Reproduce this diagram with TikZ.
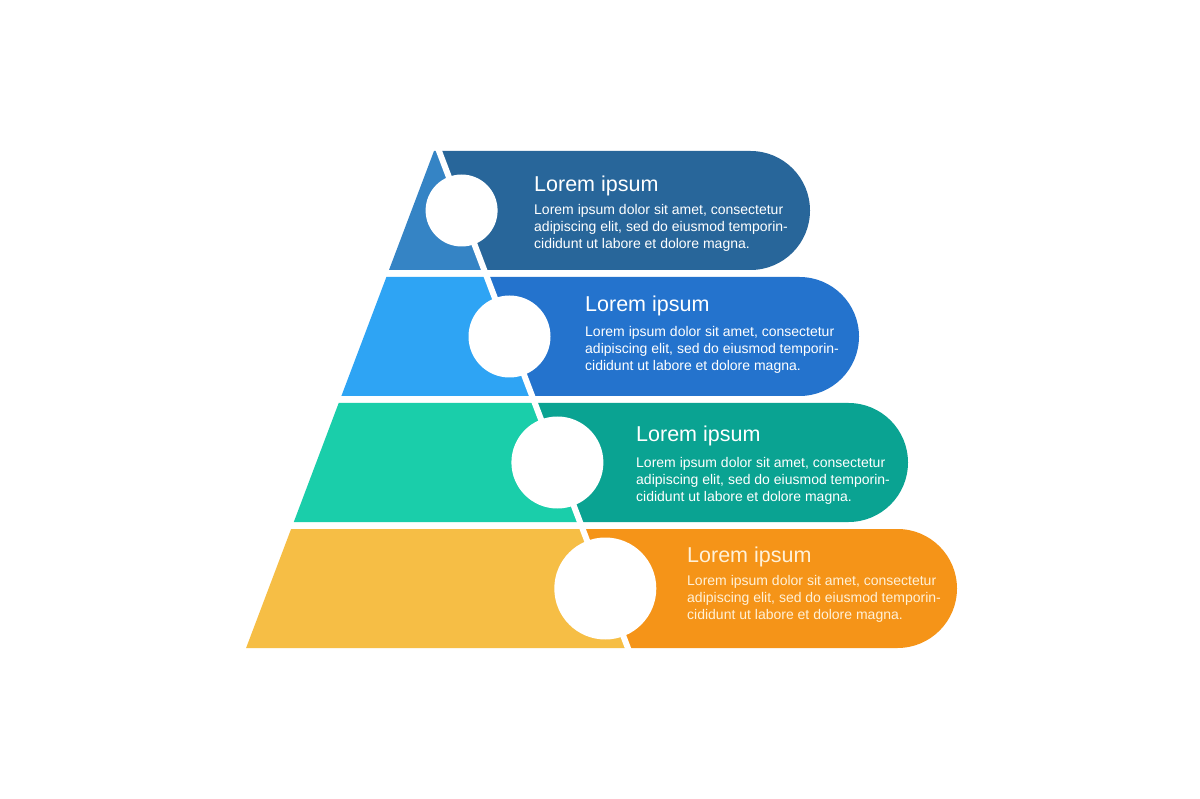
\documentclass[tikz,border=0pt]{standalone}
\usepackage{fontspec}
\setmainfont{Liberation Sans}
\usepackage{xcolor}
\usepackage{tikz}

\definecolor{blueA}{HTML}{3584C5}
\definecolor{blueAd}{HTML}{28669A}
\definecolor{blueB}{HTML}{2EA4F4}
\definecolor{blueBd}{HTML}{2473CD}
\definecolor{tealC}{HTML}{1ACEAA}
\definecolor{tealCd}{HTML}{0AA392}
\definecolor{yellD}{HTML}{F6BE45}
\definecolor{yellDd}{HTML}{F59418}
\definecolor{cream}{HTML}{FFF1D8}

\newcommand{\bodytext}{Lorem ipsum dolor sit amet, consectetur\\
  adipiscing elit, sed do eiusmod temporin-\\
  cididunt ut labore et dolore magna.}

\begin{document}
\begin{tikzpicture}[x=1pt,y=-1pt,
    hole/.style={fill=white},
    ttl/.style={inner sep=0pt,anchor=base west,text=white,
      font=\fontsize{21.5}{24}\selectfont},
    txt/.style={inner sep=0pt,anchor=base west,align=left,text=white,
      font=\fontsize{14}{17}\selectfont}]
    \fill[white] (0,0) rectangle (1200,799);
    \useasboundingbox (0,0) rectangle (1200,799);

    % left parts of the pyramid
    \fill[blueA] (434,151) -- (439,151) -- (484.2,270) -- (389,270) -- cycle;
    \fill[blueB] (386.4,277) -- (486.9,277) -- (532.1,396) -- (341.4,396) -- cycle;
    \fill[tealC] (338.7,403) -- (534.8,403) -- (580,522) -- (293.8,522) -- cycle;
    \fill[yellD] (291.1,529) -- (582.6,529) -- (627.9,648) -- (246.1,648) -- cycle;

    % right parts with round ends
    \fill[blueAd] (439,151) -- (750.5,151) arc (-90:90:59.5) -- (484.2,270) -- cycle;
    \fill[blueBd] (486.9,277) -- (799.5,277) arc (-90:90:59.5) -- (532.1,396) -- cycle;
    \fill[tealCd] (534.8,403) -- (848.5,403) arc (-90:90:59.5) -- (580,522) -- cycle;
    \fill[yellDd] (582.6,529) -- (897.5,529) arc (-90:90:59.5) -- (627.9,648) -- cycle;

    \coordinate (s0) at (437.1,146);
    \coordinate (s1) at (629.8,653);
    \draw[white,line width=6pt] (s0) -- (s1);

    \node[hole,circle,inner sep=0pt,minimum size=72pt] (c1) at (461.6,210.5) {};
    \node[hole,circle,inner sep=0pt,minimum size=82pt] (c2) at (509.5,336.5) {};
    \node[hole,circle,inner sep=0pt,minimum size=92pt] (c3) at (557.4,462.5) {};
    \node[hole,circle,inner sep=0pt,minimum size=102pt] (c4) at (605.3,588.5) {};

    % body nodes sit on the baseline of their last line
    \node[ttl] (t1) at (534,192) {Lorem ipsum};
    \node[txt] (b1) at (534,249) {\bodytext};
    \node[ttl] (t2) at (585,312) {Lorem ipsum};
    \node[txt] (b2) at (585,371) {\bodytext};
    \node[ttl] (t3) at (636,442) {Lorem ipsum};
    \node[txt] (b3) at (636,501) {\bodytext};
    \node[ttl,text=cream] (t4) at (687,562) {Lorem ipsum};
    \node[txt,text=cream] (b4) at (687,619) {\bodytext};
  \end{tikzpicture}
\end{document}
